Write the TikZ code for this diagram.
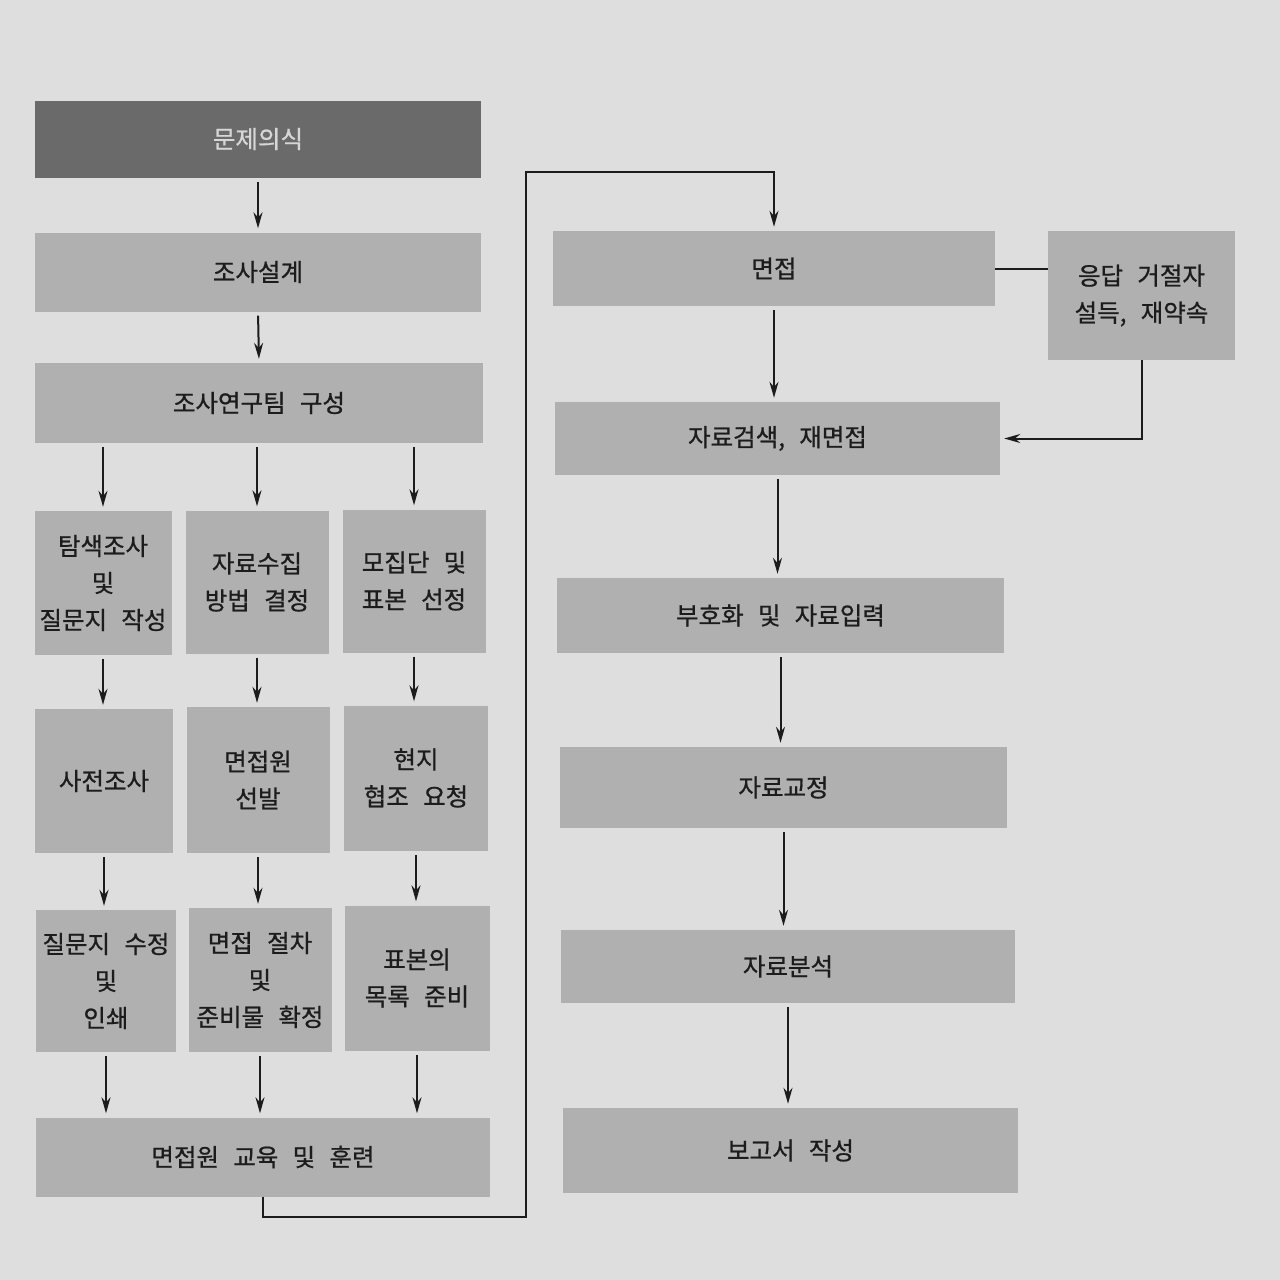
\documentclass[tikz,border=0pt]{standalone}
\usepackage{fontspec}
\setmainfont[WordSpace=2.6,FakeBold=0.8]{Noto Sans CJK KR}
\usetikzlibrary{arrows.meta,calc}
\definecolor{paper}{RGB}{222,222,222}
\definecolor{boxgray}{RGB}{176,176,176}
\definecolor{headgray}{RGB}{106,106,106}
\definecolor{headtext}{RGB}{214,214,214}
\definecolor{ink}{RGB}{28,28,28}

\begin{document}
\begin{tikzpicture}[x=1pt,y=-1pt,>={Stealth[length=16pt,width=9pt]},
  box/.style={fill=boxgray,text=ink,inner sep=0pt,align=center,
    font=\fontsize{24.5}{37}\selectfont},
  flow/.style={->,line width=2pt,draw=ink,shorten <=4pt,shorten >=4pt},
  link/.style={line width=2pt,draw=ink}]
\useasboundingbox[fill=paper] (0,0) rectangle (1280,1280);
%---------------- left column
\begin{scope}
% top boxes
\node[box,fill=headgray,text=headtext,minimum width=446pt,minimum height=77pt] (problem) at (258,139) {문제의식};
\node[box,minimum width=446pt,minimum height=79pt] (design) at (258,272) {조사설계};
\node[box,minimum width=448pt,minimum height=80pt] (team) at (259,403) {조사연구팀 구성};
% row 1
\node[box,minimum width=137pt,minimum height=144pt] (explore) at (103,583) {탐색조사\\및\\질문지 작성};
\node[box,minimum width=143pt,minimum height=143pt] (method) at (257,582) {자료수집\\방법 결정};
\node[box,minimum width=143pt,minimum height=143pt] (sample) at (414,581) {모집단 및\\표본 선정};
% row 2
\node[box,minimum width=138pt,minimum height=144pt] (pretest) at (104,781) {사전조사};
\node[box,minimum width=143pt,minimum height=146pt] (select) at (258,780) {면접원\\선발};
\node[box,minimum width=144pt,minimum height=145pt] (local) at (416,778) {현지\\협조 요청};
% row 3
\node[box,minimum width=140pt,minimum height=142pt] (revise) at (106,981) {질문지 수정\\및\\인쇄};
\node[box,minimum width=143pt,minimum height=144pt] (proc) at (260,980) {면접 절차\\및\\준비물 확정};
\node[box,minimum width=145pt,minimum height=145pt] (list) at (417,978) {표본의\\목록 준비};
% bottom box
\node[box,minimum width=454pt,minimum height=79pt] (train) at (263,1157) {면접원 교육 및 훈련};

% arrows
\draw[flow] (problem.south) -- (design.north);
\draw[flow] (design.south) -- (team.north);
\draw[flow] (team.south -| explore.north) -- (explore.north);
\draw[flow] (team.south -| method.north) -- (method.north);
\draw[flow] (team.south -| sample.north) -- (sample.north);
\draw[flow] (explore.south) -- (explore.south |- pretest.north);
\draw[flow] (method.south) -- (method.south |- select.north);
\draw[flow] (sample.south) -- (sample.south |- local.north);
\draw[flow] (pretest.south) -- (pretest.south |- revise.north);
\draw[flow] (select.south) -- (select.south |- proc.north);
\draw[flow] (local.south) -- (local.south |- list.north);
\draw[flow] (revise.south) -- (revise.south |- train.north);
\draw[flow] (proc.south) -- (proc.south |- train.north);
\draw[flow] (list.south) -- (list.south |- train.north);
\end{scope}
%---------------- right column
\begin{scope}
\node[box,minimum width=442pt,minimum height=75pt] (interview) at (774,268.5) {면접};
\node[box,minimum width=187pt,minimum height=129pt] (refusal) at (1141.5,295.5) {응답 거절자\\설득, 재약속};
\node[box,minimum width=445pt,minimum height=73pt] (search) at (777.5,438.5) {자료검색, 재면접};
\node[box,minimum width=447pt,minimum height=75pt] (coding) at (780.5,615.5) {부호화 및 자료입력};
\node[box,minimum width=447pt,minimum height=81pt] (edit) at (783.5,787.5) {자료교정};
\node[box,minimum width=454pt,minimum height=73pt] (analysis) at (788,966.5) {자료분석};
\node[box,minimum width=455pt,minimum height=85pt] (report) at (790.5,1150.5) {보고서 작성};

% arrows
\draw[flow] (interview.south) -- (interview.south |- search.north);
\draw[flow] (search.south) -- (search.south |- coding.north);
\draw[flow] (coding.south) -- (coding.south |- edit.north);
\draw[flow] (edit.south) -- (edit.south |- analysis.north);
\draw[flow] (analysis.south) -- (analysis.south |- report.north);
% refusal loop
\draw[link] (interview.east) -- (interview.east -| refusal.west);
\draw[flow,shorten <=0pt] (refusal.south) |- (search.east);
\end{scope}
%------------- link from left to right column
\coordinate (turn) at (526,172);
\draw[flow,shorten <=0pt] (train.south) -- ++(0,20) -| (turn) -| (interview.north);
\end{tikzpicture}
\end{document}
